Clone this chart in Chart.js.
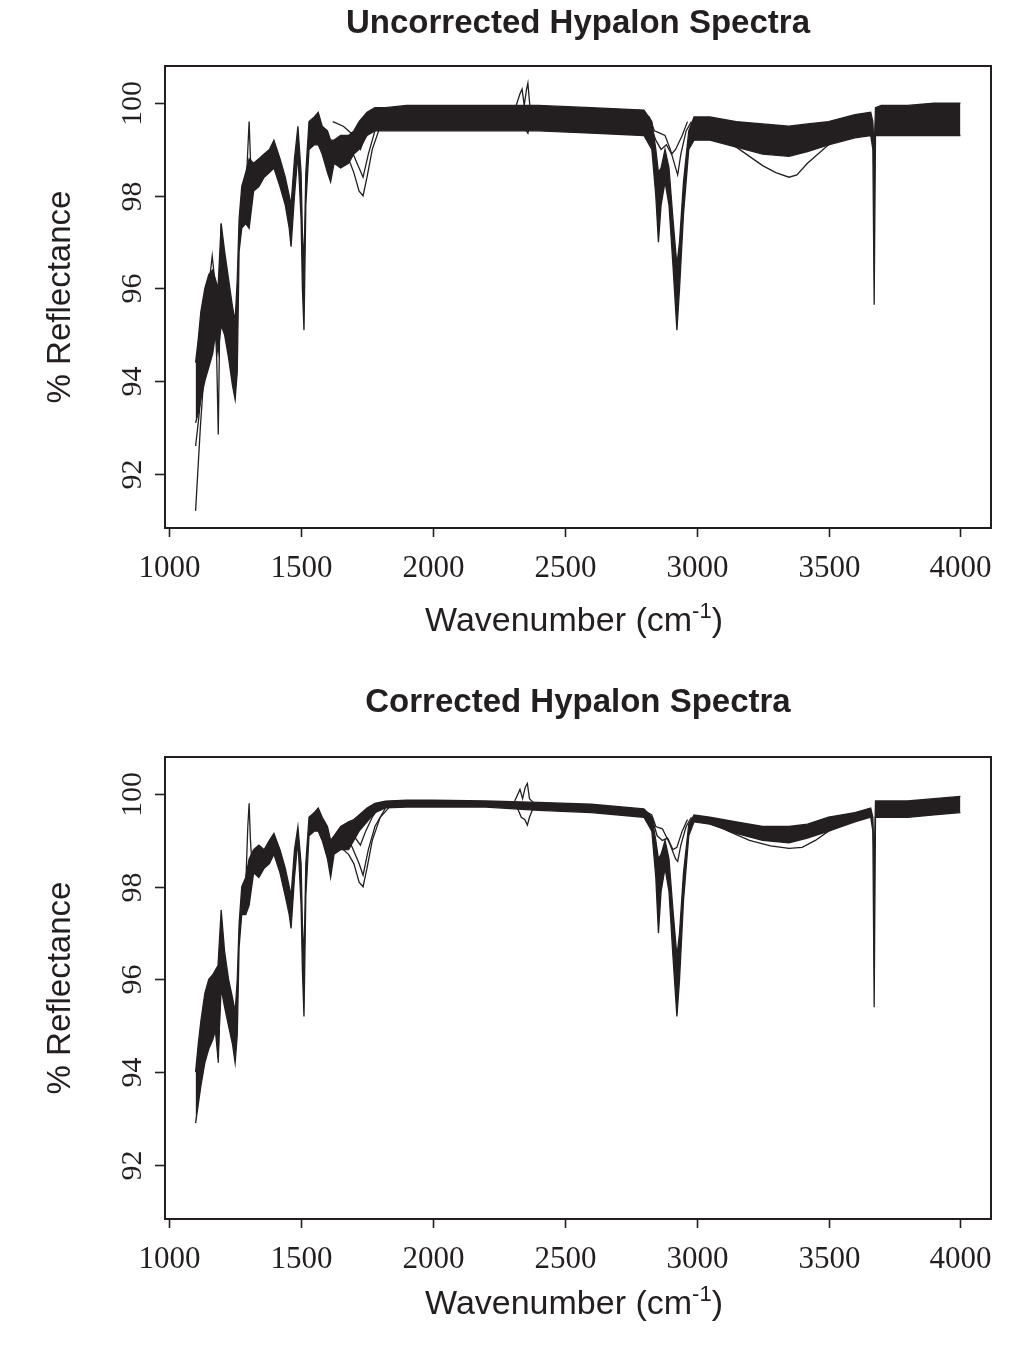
<!DOCTYPE html>
<html>
<head>
<meta charset="utf-8">
<script src="https://cdn.jsdelivr.net/npm/chart.js@4/dist/chart.umd.min.js"></script>
<style>
  html, body { margin: 0; padding: 0; background: #fff; }
  #wrap { position: relative; width: 1015px; height: 1353px; }
  canvas { position: absolute; left: 0; }
  #topChart { top: 0; }
  #botChart { top: 676px; }
</style>
</head>
<body>
<div id="wrap">
  <canvas id="topChart" width="1015" height="676"></canvas>
  <canvas id="botChart" width="1015" height="677"></canvas>
</div>
<script>
// axis ticks
const xTicks = [1000, 1500, 2000, 2500, 3000, 3500, 4000];
const yTicks = [92, 94, 96, 98, 100];

const wavenumbers = [1100, 1110, 1120, 1135, 1150, 1165, 1175, 1185, 1197, 1210,
  1225, 1240, 1250, 1258, 1265, 1275, 1290, 1303, 1320, 1340,
  1360, 1380, 1397, 1420, 1440, 1455, 1462, 1475, 1488, 1500,
  1505, 1511, 1518, 1530, 1550, 1565, 1580, 1600, 1612, 1625,
  1650, 1680, 1700, 1720, 1750, 1780, 1820, 1900, 2000, 2200,
  2400, 2600, 2800, 2830, 2845, 2855, 2865, 2880, 2895, 2910,
  2925, 2935, 2950, 2970, 2990, 3050, 3150, 3250, 3350, 3420,
  3500, 3600, 3660, 3668, 3673, 3678, 3700, 3800, 3900, 4000];

// uncorrected: top and bottom edge of the bundle
const upperRaw = [94.4, 94.9, 95.5, 96.0, 96.3, 96.4, 96.2, 96.0, 97.4, 96.8,
  96.2, 95.6, 95.3, 96.2, 97.5, 98.2, 98.5, 98.8, 98.7, 98.8,
  98.9, 99.0, 99.2, 98.8, 98.4, 98.0, 97.8, 98.8, 99.5, 98.5,
  97.2, 96.5, 98.5, 99.6, 99.7, 99.8, 99.5, 99.4, 99.2, 99.2,
  99.3, 99.3, 99.4, 99.6, 99.8, 99.9, 99.9, 99.95, 99.95, 99.95,
  99.95, 99.9, 99.85, 99.6, 99.0, 98.5, 98.6, 99.0, 98.6, 97.5,
  96.5, 97.0, 98.3, 99.4, 99.7, 99.7, 99.6, 99.55, 99.5, 99.55,
  99.6, 99.75, 99.8, 99.6, 99.0, 99.9, 99.95, 99.95, 100.0, 100.0];
const lowerRaw = [93.1, 93.3, 93.6, 94.0, 94.3, 94.6, 95.0, 94.6, 95.2, 95.0,
  94.5, 93.9, 93.6, 94.2, 96.8, 97.3, 97.4, 97.3, 98.1, 98.2,
  98.4, 98.5, 98.6, 98.2, 97.8, 97.3, 96.9, 98.0, 98.9, 97.5,
  96.0, 95.1, 97.8, 99.0, 99.1, 99.1, 98.9, 98.5, 98.3, 98.7,
  98.6, 98.7, 98.9, 99.0, 99.3, 99.4, 99.4, 99.4, 99.4, 99.4,
  99.4, 99.35, 99.3, 99.0, 98.0, 97.0, 97.8, 98.3, 97.8, 96.5,
  95.1, 96.0, 97.6, 99.0, 99.2, 99.2, 99.05, 98.9, 98.85, 98.95,
  99.1, 99.25, 99.3, 99.0, 95.65, 99.3, 99.3, 99.3, 99.3, 99.3];

// corrected: top and bottom edge of the bundle
const upperCor = [94.0, 94.6, 95.1, 95.7, 96.0, 96.1, 96.2, 96.3, 97.5, 96.6,
  96.0, 95.6, 95.3, 96.0, 97.2, 98.0, 98.2, 98.6, 98.8, 98.9,
  98.8, 99.0, 99.15, 98.8, 98.4, 98.0, 97.8, 98.8, 99.3, 98.5,
  97.2, 96.4, 98.5, 99.5, 99.6, 99.7, 99.5, 99.3, 99.0, 99.1,
  99.3, 99.4, 99.45, 99.55, 99.7, 99.8, 99.85, 99.87, 99.87, 99.85,
  99.82, 99.78, 99.68, 99.5, 99.0, 98.6, 98.7, 99.0, 98.6, 97.5,
  96.5, 97.0, 98.3, 99.35, 99.55, 99.5, 99.4, 99.3, 99.3, 99.35,
  99.5, 99.6, 99.7, 99.5, 98.5, 99.85, 99.85, 99.85, 99.9, 99.95];
const lowerCor = [92.9, 93.3, 93.7, 94.2, 94.5, 94.7, 94.9, 94.3, 95.8, 95.4,
  95.0, 94.6, 94.2, 94.8, 96.7, 97.4, 97.4, 97.6, 98.3, 98.2,
  98.4, 98.5, 98.7, 98.3, 97.8, 97.4, 97.1, 98.2, 99.0, 97.6,
  96.2, 95.2, 97.8, 99.1, 99.2, 99.2, 99.0, 98.6, 98.2, 98.7,
  98.8, 98.8, 99.0, 99.2, 99.4, 99.6, 99.7, 99.72, 99.72, 99.72,
  99.65, 99.6, 99.5, 99.2, 98.2, 97.0, 97.9, 98.4, 97.9, 96.5,
  95.2, 96.0, 97.7, 99.1, 99.4, 99.35, 99.15, 99.0, 98.95, 99.05,
  99.2, 99.4, 99.5, 99.2, 95.4, 99.5, 99.5, 99.5, 99.55, 99.6];

// single spectra that stand out of the uncorrected bundle [wavenumber, %R]
const rawLow1 = [[1100, 91.2], [1108, 92.0], [1118, 93.0], [1130, 94.0], [1145, 95.0]];
const rawLow2 = [[1100, 92.6], [1112, 93.2], [1125, 94.0], [1140, 94.8]];
const rawPeak1165 = [[1140, 95.4], [1155, 96.3], [1163, 96.7], [1172, 96.2]];
const rawDip1186 = [[1172, 95.6], [1180, 94.5], [1186, 92.85], [1191, 95.0], [1197, 97.4]];
const rawPeak1303 = [[1290, 98.0], [1298, 99.0], [1303, 99.6], [1308, 98.8], [1315, 98.3]];
const rawBand1730a = [[1640, 99.0], [1680, 98.8], [1700, 98.5], [1720, 98.1], [1735, 98.0], [1750, 98.4], [1770, 99.0], [1800, 99.5], [1840, 99.7]];
const rawBand1730b = [[1650, 99.1], [1690, 99.0], [1720, 98.6], [1735, 98.4], [1755, 98.9], [1780, 99.4], [1820, 99.7]];
const rawBand1730c = [[1620, 99.6], [1660, 99.5], [1700, 99.3], [1725, 99.0], [1745, 99.3], [1770, 99.6], [1800, 99.8]];
const rawCo2Up = [[2310, 99.85], [2330, 100.2], [2338, 100.3], [2346, 99.95], [2355, 100.3], [2360, 100.43], [2368, 99.9], [2380, 99.85]];
const rawCo2Down = [[2330, 99.6], [2340, 99.45], [2355, 99.4], [2360, 99.35], [2366, 99.5], [2380, 99.6]];
const rawCH1 = [[2790, 99.8], [2820, 99.7], [2840, 99.4], [2860, 99.35], [2880, 99.3], [2900, 99.0], [2920, 98.6], [2928, 98.45], [2940, 98.9], [2960, 99.4], [2980, 99.6]];
const rawCH2 = [[2820, 99.6], [2845, 99.2], [2865, 99.0], [2885, 99.1], [2905, 98.9], [2920, 99.0], [2945, 99.3], [2965, 99.6]];
const rawOH = [[3080, 99.3], [3150, 99.05], [3200, 98.85], [3250, 98.65], [3300, 98.5], [3350, 98.4], [3380, 98.45], [3420, 98.7], [3460, 98.9], [3500, 99.1], [3560, 99.3]];

// single spectra that stand out of the corrected bundle
const corDip1186 = [[1175, 95.5], [1186, 94.2], [1192, 95.5]];
const corPeak1303 = [[1290, 98.0], [1298, 99.3], [1303, 99.8], [1308, 99.0], [1315, 98.4]];
const corBand1730a = [[1640, 98.9], [1680, 98.7], [1700, 98.5], [1720, 98.1], [1735, 98.0], [1750, 98.4], [1770, 99.0], [1800, 99.5], [1840, 99.75]];
const corBand1730b = [[1650, 99.0], [1690, 98.9], [1720, 98.5], [1735, 98.25], [1755, 98.8], [1780, 99.3], [1820, 99.7]];
const corBand1730c = [[1660, 99.3], [1700, 99.1], [1725, 98.9], [1745, 99.2], [1770, 99.5], [1800, 99.75]];
const corCo2Up = [[2310, 99.85], [2330, 100.1], [2340, 99.9], [2350, 100.15], [2358, 100.23], [2366, 99.9], [2380, 99.82]];
const corCo2Down = [[2320, 99.7], [2335, 99.5], [2348, 99.45], [2358, 99.33], [2366, 99.5], [2380, 99.7]];
const corCH1 = [[2800, 99.65], [2830, 99.55], [2845, 99.3], [2870, 99.25], [2900, 98.9], [2920, 98.6], [2928, 98.55], [2940, 98.9], [2960, 99.3], [2980, 99.5]];
const corCH2 = [[2830, 99.5], [2850, 99.1], [2870, 99.0], [2890, 99.05], [2910, 98.8], [2925, 98.85], [2945, 99.2], [2965, 99.45]];
const corOH = [[3050, 99.4], [3120, 99.2], [3200, 99.0], [3280, 98.88], [3350, 98.83], [3400, 98.85], [3450, 99.0], [3500, 99.2], [3560, 99.35]];

const ink = '#231f20';

function toPoints(xs, ys) {
  return xs.map((x, i) => ({ x: x, y: ys[i] }));
}

function buildDatasets(upper, lower, singles) {
  const sets = [
    { data: toPoints(wavenumbers, upper), fill: '+1', backgroundColor: ink },
    { data: toPoints(wavenumbers, lower), fill: false }
  ];
  singles.forEach(s => sets.push({ data: s.map(p => ({ x: p[0], y: p[1] })), fill: false }));
  sets.forEach(s => {
    s.borderColor = ink;
    s.borderWidth = 1.3;
    s.pointRadius = 0;
    s.tension = 0;
  });
  return sets;
}

function framePlugin(opts) {
  return {
    id: 'frame',
    afterDraw(chart) {
      const { ctx, chartArea: a } = chart;
      const x = chart.scales.x, y = chart.scales.y;
      ctx.save();
      ctx.strokeStyle = ink;
      ctx.fillStyle = ink;
      ctx.lineWidth = 2;
      ctx.strokeRect(a.left, a.top, a.right - a.left, a.bottom - a.top);

      // x axis
      ctx.lineWidth = 1.6;
      ctx.font = '31px "Liberation Serif"';
      ctx.textAlign = 'center';
      ctx.textBaseline = 'alphabetic';
      xTicks.forEach(v => {
        const px = Math.round(x.getPixelForValue(v)) + 0.5;
        ctx.beginPath();
        ctx.moveTo(px, a.bottom);
        ctx.lineTo(px, a.bottom + 9);
        ctx.stroke();
        ctx.fillText(String(v), px, a.bottom + 49);
      });

      // y axis
      ctx.font = '30px "Liberation Serif"';
      yTicks.forEach(v => {
        const py = Math.round(y.getPixelForValue(v)) + 0.5;
        ctx.beginPath();
        ctx.moveTo(a.left - 10, py);
        ctx.lineTo(a.left, py);
        ctx.stroke();
        ctx.save();
        ctx.translate(a.left - 24, py);
        ctx.rotate(-Math.PI / 2);
        ctx.fillText(String(v), 0, 0);
        ctx.restore();
      });

      // title
      const cx = (a.left + a.right) / 2;
      ctx.font = 'bold 33px "Liberation Sans"';
      ctx.fillText(opts.title, cx, opts.titleY);

      // x title with superscript
      const big = '34px "Liberation Sans"';
      const small = '22px "Liberation Sans"';
      const p1 = 'Wavenumber (cm', p2 = '-1', p3 = ')';
      ctx.font = big;
      const w1 = ctx.measureText(p1).width, w3 = ctx.measureText(p3).width;
      ctx.font = small;
      const w2 = ctx.measureText(p2).width;
      let sx = cx - 4 - (w1 + w2 + w3) / 2;
      ctx.textAlign = 'left';
      ctx.font = big;
      ctx.fillText(p1, sx, opts.xTitleY);
      ctx.font = small;
      ctx.fillText(p2, sx + w1, opts.xTitleY - 13);
      ctx.font = big;
      ctx.fillText(p3, sx + w1 + w2, opts.xTitleY);

      // y title
      ctx.textAlign = 'center';
      ctx.font = '33px "Liberation Sans"';
      ctx.save();
      ctx.translate(70, (a.top + a.bottom) / 2);
      ctx.rotate(-Math.PI / 2);
      ctx.fillText('% Reflectance', 0, 0);
      ctx.restore();
      ctx.restore();
    }
  };
}

function makeChart(id, datasets, pad, opts) {
  return new Chart(document.getElementById(id), {
    type: 'line',
    data: { datasets: datasets },
    options: {
      responsive: false,
      animation: false,
      parsing: false,
      normalized: true,
      layout: { padding: pad },
      scales: {
        x: { type: 'linear', min: 984, max: 4116, display: false },
        y: { type: 'linear', min: 90.83, max: 100.8, display: false }
      },
      plugins: { legend: { display: false }, tooltip: { enabled: false } }
    },
    plugins: [framePlugin(opts)]
  });
}

makeChart('topChart',
  buildDatasets(upperRaw, lowerRaw, [rawLow1, rawLow2, rawPeak1165, rawDip1186, rawPeak1303,
    rawBand1730a, rawBand1730b, rawBand1730c, rawCo2Up, rawCo2Down, rawCH1, rawCH2, rawOH]),
  { left: 165, right: 24, top: 66, bottom: 148 },
  { title: 'Uncorrected Hypalon Spectra', titleY: 33, xTitleY: 631 });

makeChart('botChart',
  buildDatasets(upperCor, lowerCor, [corDip1186, corPeak1303, corBand1730a, corBand1730b,
    corBand1730c, corCo2Up, corCo2Down, corCH1, corCH2, corOH]),
  { left: 165, right: 24, top: 81, bottom: 134 },
  { title: 'Corrected Hypalon Spectra', titleY: 36, xTitleY: 638 });
</script>
</body>
</html>
